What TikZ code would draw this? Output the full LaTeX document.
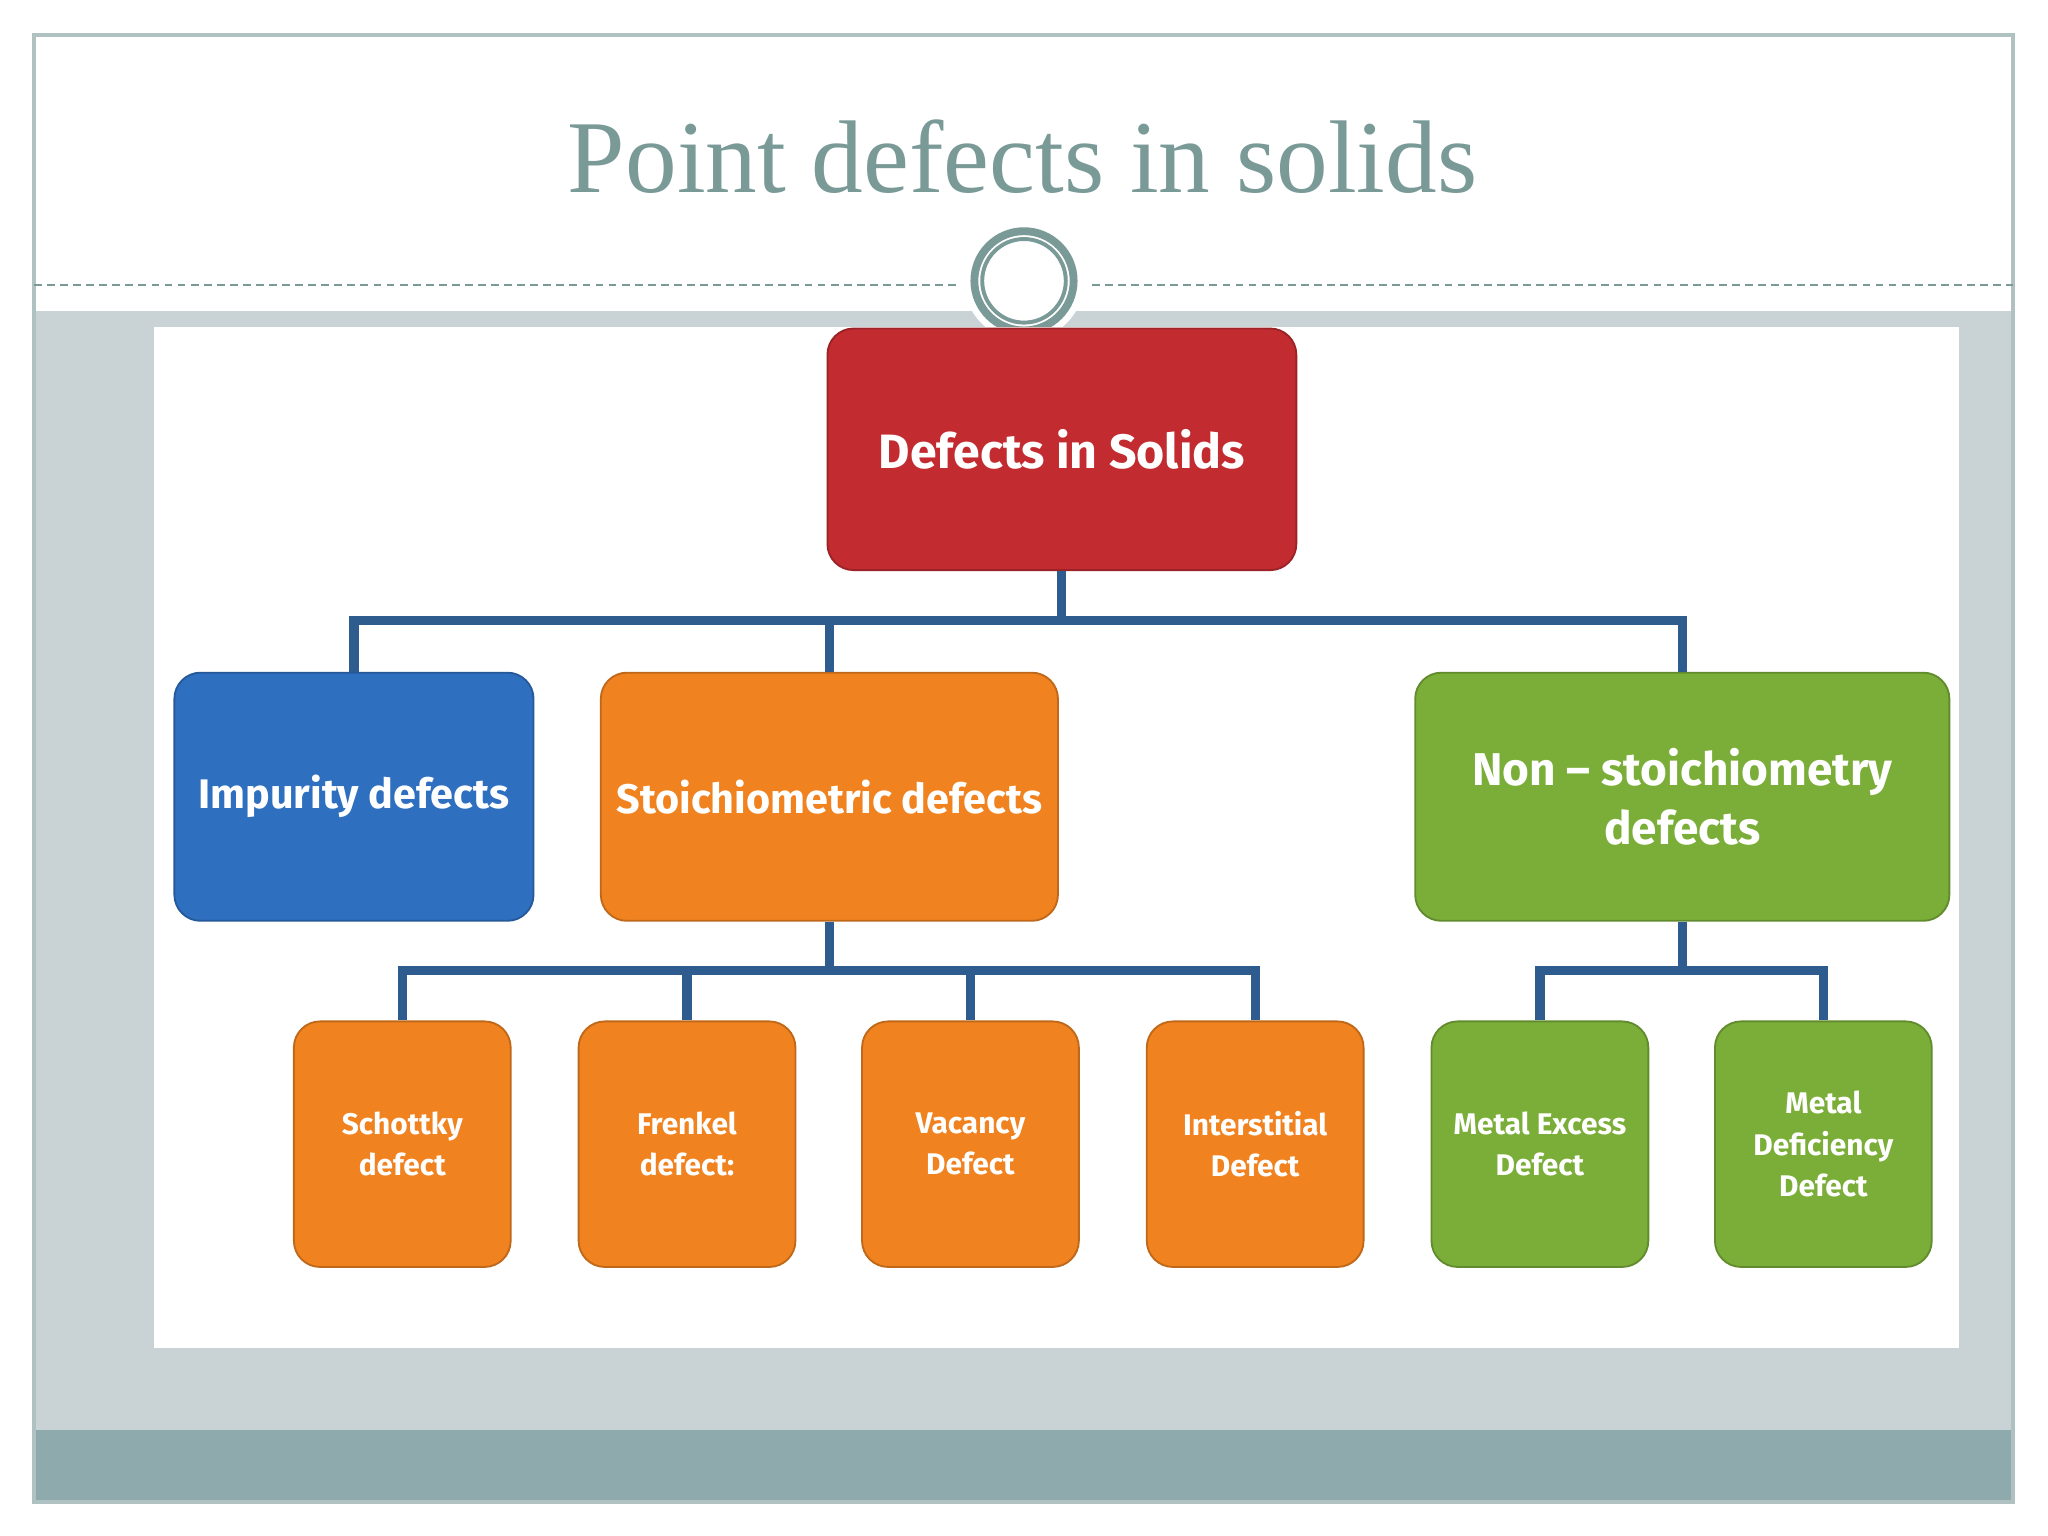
\documentclass[tikz,border=0pt]{standalone}
\usepackage{fontspec}
\setmainfont{Liberation Serif}
\newfontfamily\boxfont{Fira Sans}
\definecolor{ttl}{HTML}{7A9A98}
\definecolor{bgg}{HTML}{C9D3D6}
\definecolor{band}{HTML}{8FAAAC}
\definecolor{rd}{HTML}{C22B30}
\definecolor{bl}{HTML}{2F6FC0}
\definecolor{og}{HTML}{F0821F}
\definecolor{gr}{HTML}{7BAE38}
\definecolor{ln}{HTML}{2F5C8F}
\begin{document}
\begin{tikzpicture}[x=0.1mm,y=-0.1mm,
 bx/.style={rounded corners=2mm,draw=#1!80!black,fill=#1,text=white,align=center,inner sep=1mm,font=\boxfont\bfseries},
 con/.style={draw=ln,line width=0.7mm}]
\useasboundingbox (0,0) rectangle (1568,1176);
\fill[white] (0,0) rectangle (1568,1176);
\fill[bgg] (26,238) rectangle (1541,1095);
\fill[band] (26,1095) rectangle (1541,1150);
\draw[ttl!60,line width=0.3mm] (26,27) rectangle (1541,1150);
\node[font=\fontsize{22.5}{27}\selectfont,text=ttl] (title) at (783,120) {Point defects in solids};
\draw[ttl,dash pattern=on 0.6mm off 0.4mm,line width=0.15mm] (26,218) -- (732,218) (836,218) -- (1541,218);
\fill[white] (784,215) circle (46);
\draw[ttl,line width=0.6mm] (784,215) circle (38);
\draw[ttl,line width=0.3mm] (784,215) circle (32);
\fill[white] (118,250) rectangle (1500,1032);
\node[bx=rd,minimum width=35.9mm,minimum height=18.5mm,font=\boxfont\bfseries\fontsize{10.5}{13}\selectfont] (root) at (813,344) {Defects in Solids};
\node[bx=bl,minimum width=27.5mm,minimum height=19mm,font=\boxfont\bfseries\fontsize{9}{11}\selectfont] (imp) at (271,610) {Impurity defects};
\node[bx=og,minimum width=35mm,minimum height=19mm,font=\boxfont\bfseries\fontsize{9}{11}\selectfont] (sto) at (635,610) {Stoichiometric defects};
\node[bx=gr,minimum width=40.9mm,minimum height=19mm,font=\boxfont\bfseries\fontsize{10}{13}\selectfont] (non) at (1288,610) {Non – stoichiometry\\defects};
\foreach \n/\x/\t in {a/308/{Schottky\\defect},b/526/{Frenkel\\defect:},c/743/{Vacancy\\Defect},d/961/{Interstitial\\Defect}}
  \node[bx=og,minimum width=16.6mm,minimum height=18.8mm,font=\boxfont\bfseries\fontsize{6.5}{9}\selectfont] (\n) at (\x,876) {\t};
\node[bx=gr,minimum width=16.6mm,minimum height=18.8mm,font=\boxfont\bfseries\fontsize{6.5}{9}\selectfont] (e) at (1179,876) {Metal Excess\\Defect};
\node[bx=gr,minimum width=16.6mm,minimum height=18.8mm,font=\boxfont\bfseries\fontsize{6.5}{9}\selectfont] (f) at (1396,876) {Metal\\Deficiency\\Defect};
\coordinate (j1) at (813,475);
\draw[con] (root.south) -- (j1);
\foreach \t in {imp,sto,non} \draw[con] (j1) -| (\t.north);
\coordinate (j2) at (635,743);
\draw[con] (sto.south) -- (j2);
\foreach \t in {a,b,c,d} \draw[con] (j2) -| (\t.north);
\coordinate (j3) at (1288,743);
\draw[con] (non.south) -- (j3);
\foreach \t in {e,f} \draw[con] (j3) -| (\t.north);
\end{tikzpicture}
\end{document}
